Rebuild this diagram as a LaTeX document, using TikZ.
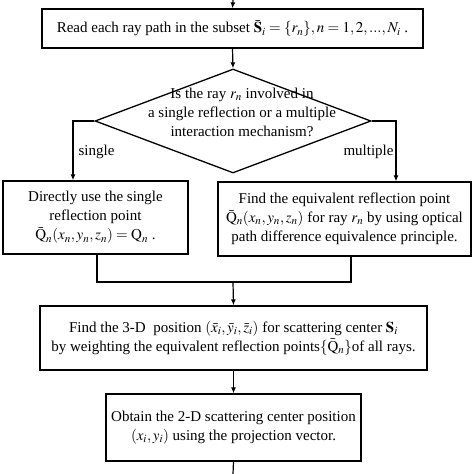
\documentclass[tikz,border=0pt]{standalone}
\usepackage{mathptmx}
\usepackage{fontspec}
\setmainfont{Liberation Serif}
\usetikzlibrary{shapes.geometric,arrows.meta,calc}
\begin{document}
\begin{tikzpicture}[x=1pt,y=-1pt,
  every node/.style={font=\fontsize{15}{19}\selectfont},
  procbox/.style={draw, line width=1.3pt, inner sep=0pt, align=center},
  decbox/.style={draw, diamond, line width=1.3pt, inner sep=0pt, minimum width=276pt, minimum height=104pt},
  txt/.style={inner sep=0pt, align=center},
  conn/.style={line width=1.2pt},
  arr/.style={conn, -{Latex[length=6pt,width=5pt]}}]
\useasboundingbox (0,0) rectangle (474,474);

\node[procbox, minimum width=381pt, minimum height=39pt] (b1) at (232.5,28.5)
  {Read each ray path in the subset $\bar{\mathbf{S}}_i=\{r_n\}, n=1,2,...,N_i$ .};
\node[decbox] (d) at (233,121) {};
\node[txt] (dt) at (242,112) {Is the ray $r_n$ involved in\\a single reflection or a multiple\\interaction mechanism?};

\node[procbox, minimum width=185pt, minimum height=73pt] (lb) at (95.5,217.5)
  {Directly use the single\\reflection point\\$\bar{\mathrm{Q}}_n(x_n,y_n,z_n)=\mathrm{Q}_n$ .};
\node[procbox, minimum width=253pt, minimum height=74pt] (rb) at (344.5,219)
  {Find the equivalent reflection point\\$\bar{\mathrm{Q}}_n(x_n,y_n,z_n)$ for ray $r_n$ by using optical\\path difference equivalence principle.};

\node[procbox, minimum width=387pt, minimum height=64pt] (b4) at (233.5,338)
  {Find the 3-D\ \ position $(\bar{x}_i,\bar{y}_i,\bar{z}_i)$ for scattering center $\mathbf{S}_i$\\by weighting the equivalent reflection points$\{\bar{\mathrm{Q}}_n\}$of all rays.};
\node[procbox, minimum width=255pt, minimum height=67pt] (b5) at (233.5,427.5)
  {Obtain the 2-D scattering center position\\$(x_i,y_i)$ using the projection vector.};

\node[txt] (ls) at (96.5,152) {single};
\node[txt] (ms) at (368.5,152) {multiple};

\coordinate (top) at (233,0);
\coordinate (bot) at (233,474);
\coordinate (lk) at (73,121);
\coordinate (rk) at (396,121);
\coordinate (lj) at (97,282);
\coordinate (rj) at (351,282);
\coordinate (mj) at (233,282);

\draw[arr] (top) -- (b1.north);
\draw[arr] (b1.south) -- (d.north);
\draw[arr] (d.west) -- (lk) -- (lk |- lb.north);
\draw[arr] (d.east) -- (rk) -- (rk |- rb.north);
\draw[conn] (lj |- lb.south) -- (lj) -- (rj) -- (rj |- rb.south);
\draw[arr] (mj) -- (b4.north);
\draw[arr] (b4.south) -- (b5.north);
\draw[conn] (b5.south) -- (bot);
\end{tikzpicture}
\end{document}
